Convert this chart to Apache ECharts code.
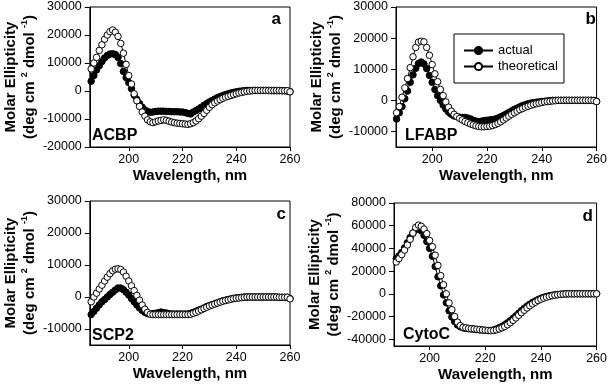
<!DOCTYPE html>
<html>
<head>
<meta charset="utf-8">
<script src="https://cdn.jsdelivr.net/npm/echarts@6/dist/echarts.min.js"></script>
<style>
    html, body { margin: 0; padding: 0; background: #fff; }
    #chart { width: 610px; height: 386px; }
</style>
</head>
<body>
<div id="chart"></div>
<script>
    // wavelength, nm (1 nm steps)
    var wavelength = [186, 187, 188, 189, 190, 191, 192, 193, 194, 195, 196, 197, 198, 199,
        200, 201, 202, 203, 204, 205, 206, 207, 208, 209, 210, 211, 212, 213, 214, 215, 216, 217, 218, 219,
        220, 221, 222, 223, 224, 225, 226, 227, 228, 229, 230, 231, 232, 233, 234, 235, 236, 237, 238, 239,
        240, 241, 242, 243, 244, 245, 246, 247, 248, 249, 250, 251, 252, 253, 254, 255, 256, 257, 258, 259, 260];

    // a - ACBP (186..260)
    var actualA = [3500, 5500, 7500, 9000, 10500, 11800, 12700, 13200, 13300, 13000, 12000, 9800, 7000, 4800,
        3000, 800, -1500, -3000, -4500, -5800, -6800, -7400, -7600, -7500, -7300, -7200, -7200, -7200, -7300, -7300, -7400, -7400, -7400, -7500,
        -7500, -7700, -8000, -8200, -7500, -7000, -6400, -5800, -5100, -4500, -3900, -3400, -2900, -2400, -2000, -1600, -1300, -1000, -700, -500,
        -300, -100, 0, 100, 200, 200, 200, 200, 200, 200, 200, 200, 200, 100, 100, 100, 100, 100, 100, 0, -200];
    var theoA = [7900, 10000, 12000, 14500, 16500, 18500, 20000, 21200, 21800, 21000, 19500, 17000, 13500, 9500,
        5500, 2500, -1000, -3500, -5500, -7500, -9000, -10300, -11000, -11300, -11000, -10700, -10500, -10300, -10500, -10800, -11100, -11300, -11500, -11600,
        -11700, -11800, -11900, -11700, -11300, -10700, -9900, -9000, -8000, -6900, -5800, -4900, -4200, -3600, -3100, -2600, -2200, -1900, -1600, -1300,
        -1000, -700, -500, -300, -100, 0, 100, 200, 200, 200, 200, 200, 200, 200, 200, 200, 200, 100, 100, 100, -300];

    // b - LFABP (187..260)
    var actualB = [-6000, -4000, -2000, 500, 3000, 5800, 8200, 10300, 11800, 12300, 11700, 10200, 8000,
        5800, 3500, 1500, 0, -1500, -2800, -3800, -4500, -5000, -5200, -5400, -5500, -5500, -5700, -6000, -6400, -6700, -6800, -6700, -6500,
        -6400, -6300, -6200, -6000, -5700, -5300, -4900, -4400, -3900, -3400, -2900, -2500, -2100, -1700, -1400, -1100, -900, -700, -600, -500,
        -400, -300, -200, -100, 0, 0, 0, 0, 0, 0, 0, 0, 0, 0, 0, 0, 0, 0, 0, 0, -300];
    var theoB = [-4000, -2000, 1000, 4000, 7000, 10500, 14000, 17000, 18700, 19000, 18800, 17000, 14500,
        11500, 8500, 6000, 3500, 1500, -500, -2200, -3500, -4500, -5200, -5800, -6300, -6800, -7200, -7600, -7900, -8200, -8400, -8500, -8500,
        -8400, -8300, -8100, -7800, -7400, -6900, -6300, -5700, -5100, -4500, -4000, -3500, -3000, -2600, -2200, -1900, -1600, -1300, -1100, -900,
        -700, -500, -400, -300, -200, -100, 0, 0, 0, 0, 0, 0, 0, 0, 0, 0, 0, 0, 0, -100, -400];

    // c - SCP2 (186..260)
    var actualC = [-5500, -4500, -3500, -2500, -1500, -800, 0, 800, 1500, 2200, 2800, 2800, 2300, 1500,
        600, -500, -1500, -2500, -3400, -4200, -4800, -5200, -5300, -5200, -5100, -4900, -4700, -4900, -5000, -5200, -5300, -5300, -5300, -5300,
        -5300, -5300, -5300, -5100, -4800, -4500, -4100, -3800, -3400, -3000, -2700, -2400, -2100, -1800, -1500, -1200, -1000, -800, -600, -400,
        -300, -200, -100, 0, 0, 0, 0, 0, 0, 0, 0, 0, 0, 0, 0, 0, -100, -100, -100, -100, -500];
    var theoC = [-1500, 0, 1200, 2500, 3700, 5000, 6200, 7300, 8200, 8700, 8800, 8600, 7800, 6500,
        5000, 3500, 2000, 500, -1000, -2500, -3800, -4800, -5400, -5500, -5500, -5500, -5500, -5500, -5500, -5500, -5500, -5500, -5500, -5500,
        -5500, -5500, -5500, -5400, -5100, -4800, -4400, -4000, -3600, -3200, -2800, -2500, -2200, -1900, -1600, -1300, -1100, -900, -700, -500,
        -400, -300, -200, -100, 0, 0, 0, 0, 0, 0, 0, 0, 0, 0, 0, 0, -100, -100, -100, -100, -600];

    // d - CytoC (188..260)
    var actualD = [31000, 33500, 36500, 40500, 45000, 49500, 53500, 56500, 57500, 55500, 51500, 46000,
        40000, 33000, 24000, 15000, 7000, -1000, -8000, -15000, -20500, -24500, -27500, -29000, -30000, -30500, -30800, -31000, -31200, -31500, -31800, -32000,
        -32200, -32400, -32300, -31800, -31000, -30000, -28800, -27300, -25600, -23700, -21600, -19400, -17100, -14900, -12800, -10900, -9200, -7700, -6300, -5100,
        -4000, -3100, -2400, -1800, -1300, -900, -600, -400, -200, -100, 0, 0, 0, 0, 0, 0, 0, 0, 0, 0, 0];
    var theoD = [28000, 31000, 34500, 38500, 43000, 48000, 53500, 58500, 60500, 59500, 57000, 53000,
        47000, 41500, 34000, 25000, 16000, 8000, 0, -8000, -14000, -20000, -25000, -28000, -29500, -30000, -30500, -30800, -31000, -31300, -31600, -31900,
        -32100, -32300, -32500, -32300, -31800, -31000, -30000, -28800, -27300, -25500, -23500, -21300, -19000, -16700, -14500, -12500, -10600, -8900, -7400, -6000,
        -4800, -3800, -3000, -2300, -1700, -1200, -800, -500, -300, -100, 0, 0, 0, 0, 0, 0, 0, 0, 0, 0, 0];

    var xTicks = [200, 220, 240, 260];
    var yTicksA = [-20000, -10000, 0, 10000, 20000, 30000];
    var yTicksBC = [-10000, 0, 10000, 20000, 30000];
    var yTicksD = [-40000, -20000, 0, 20000, 40000, 60000, 80000];

    var panelLetters = ['a', 'b', 'c', 'd'];
    var proteins = ['ACBP', 'LFABP', 'SCP2', 'CytoC'];

    var font = "'Liberation Sans', Arial, Helvetica, sans-serif";

    function pairs(xs, ys) {
        return ys.map(function (v, i) { return [xs[i], v]; });
    }

    var panels = [
        {grid: {left: 85, top: 7, width: 205, height: 140}, xMin: 185.5, yMin: -20000, yMax: 30000, yTicks: yTicksA,
            x: wavelength, actual: actualA, theo: theoA},
        {grid: {left: 396, top: 7, width: 204, height: 140}, xMin: 186.8, yMin: -15000, yMax: 30000, yTicks: yTicksBC,
            x: wavelength.slice(1), actual: actualB, theo: theoB},
        {grid: {left: 85, top: 201, width: 205, height: 144}, xMin: 185.5, yMin: -15000, yMax: 30000, yTicks: yTicksBC,
            x: wavelength, actual: actualC, theo: theoC},
        {grid: {left: 394, top: 203, width: 206, height: 143}, xMin: 187.2, yMin: -46000, yMax: 80000, yTicks: yTicksD,
            x: wavelength.slice(2), actual: actualD, theo: theoD}
    ];

    var chart = echarts.init(document.getElementById('chart'));

    var grids = [], xAxes = [], yAxes = [], series = [], graphics = [];
    var letterPos = [[281, 19], [596, 19], [286, 214], [593, 216]];
    var namePos = [[92, 136], [405, 136], [92, 336], [403, 335]];

    panels.forEach(function (p, i) {
        grids.push({
            left: p.grid.left, top: p.grid.top, width: p.grid.width, height: p.grid.height,
            show: true, borderColor: '#000', borderWidth: 1, backgroundColor: 'transparent'
        });
        xAxes.push({
            type: 'value', gridIndex: i, min: p.xMin, max: 260,
            name: 'Wavelength, nm', nameLocation: 'middle', nameGap: 21,
            nameTextStyle: {color: '#000', fontFamily: font, fontWeight: 'bold', fontSize: 15},
            axisLine: {onZero: false, lineStyle: {color: '#000', width: 1}},
            axisTick: {show: true, length: 4, customValues: xTicks, lineStyle: {color: '#000'}},
            axisLabel: {customValues: xTicks, color: '#000', fontFamily: font, fontSize: 12.5, margin: 6,
                formatter: function (v) { return String(v); }},
            splitLine: {show: false}
        });
        yAxes.push({
            type: 'value', gridIndex: i, min: p.yMin, max: p.yMax,
            name: 'Molar Ellipticity\n(deg cm {sup|2} dmol {sup|-1})', nameLocation: 'middle', nameGap: 48,
            nameTextStyle: {
                color: '#000', fontFamily: font, fontWeight: 'bold', fontSize: 15, lineHeight: 19,
                rich: {sup: {fontSize: 9, fontWeight: 'bold', fontFamily: font, color: '#000', verticalAlign: 'top', lineHeight: 12}}
            },
            axisLine: {onZero: false, lineStyle: {color: '#000', width: 1}},
            axisTick: {show: true, length: 5, customValues: p.yTicks, lineStyle: {color: '#000'}},
            axisLabel: {customValues: p.yTicks, color: '#000', fontFamily: font, fontSize: 12.5, margin: 8,
                formatter: function (v) { return String(v); }},
            splitLine: {show: false}
        });
        series.push({
            name: 'actual', type: 'line', xAxisIndex: i, yAxisIndex: i,
            data: pairs(p.x, p.actual), clip: false,
            symbol: 'circle', symbolSize: 6.5,
            lineStyle: {color: '#000', width: 1},
            itemStyle: {color: '#000', borderColor: '#000', borderWidth: 1}
        });
        series.push({
            name: 'theoretical', type: 'line', xAxisIndex: i, yAxisIndex: i,
            data: pairs(p.x, p.theo), clip: false,
            symbol: 'circle', symbolSize: 6.5,
            lineStyle: {color: '#000', width: 1},
            itemStyle: {color: '#fff', borderColor: '#000', borderWidth: 1}
        });
        graphics.push({
            type: 'text', x: letterPos[i][0], y: letterPos[i][1],
            style: {text: panelLetters[i], font: 'bold 17px ' + font, fill: '#000', align: 'right', verticalAlign: 'middle'}
        });
        graphics.push({
            type: 'text', x: namePos[i][0], y: namePos[i][1],
            style: {text: proteins[i], font: 'bold 16px ' + font, fill: '#000', align: 'left', verticalAlign: 'middle'}
        });
    });

    var option = {
        animation: false,
        backgroundColor: '#fff',
        grid: grids,
        xAxis: xAxes,
        yAxis: yAxes,
        legend: {
            data: ['actual', 'theoretical'],
            orient: 'vertical',
            left: 454, top: 34,
            padding: [10, 6, 10, 9],
            itemWidth: 29, itemHeight: 9, itemGap: 3,
            borderColor: '#000', borderWidth: 1,
            textStyle: {color: '#000', fontFamily: font, fontSize: 13, lineHeight: 13}
        },
        graphic: graphics,
        series: series
    };

    chart.setOption(option);
</script>
</body>
</html>
